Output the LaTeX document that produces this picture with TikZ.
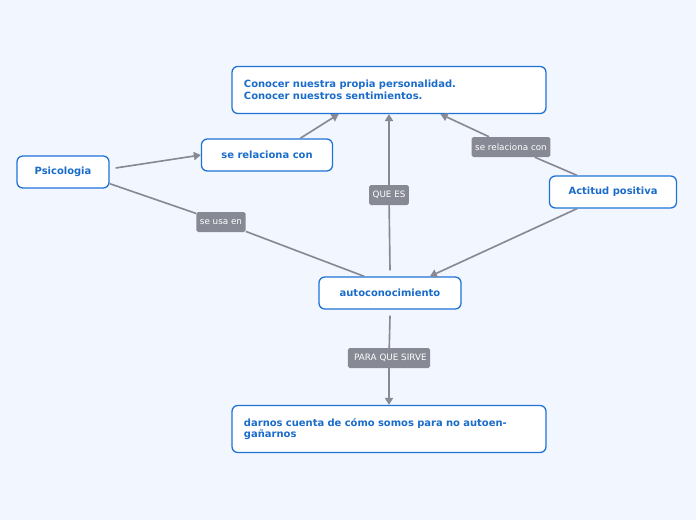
\documentclass[tikz,border=0pt]{standalone}
\usepackage{fontspec}
\setmainfont{DejaVu Sans}
\usetikzlibrary{arrows.meta,positioning}
\definecolor{mapblue}{HTML}{1F73D8}
\definecolor{maptext}{HTML}{1A6CCB}
\definecolor{mapgray}{HTML}{878A94}
\definecolor{mapbg}{HTML}{F2F6FE}
\begin{document}
\begin{tikzpicture}[x=0.03cm, y=-0.03cm,
    topic/.style={rectangle, draw=mapblue, line width=1.1pt, rounded corners=5pt, fill=white, font=\fontsize{8.5}{10}\selectfont\bfseries, text=maptext, inner xsep=10pt, minimum height=0.96cm},
    wide/.style={topic, minimum width=9.42cm, minimum height=1.41cm, align=left, text width=8.7cm},
    rel/.style={rectangle, fill=mapgray, rounded corners=1.5pt, text=white, font=\fontsize{7.5}{9}\selectfont, inner sep=3pt, minimum height=0.6cm},
    arrow/.style={-{Triangle[length=6pt,width=7pt]}, line width=1.4pt, mapgray},
    link/.style={line width=1.4pt, mapgray}
]
\fill[mapbg] (0,0) rectangle (696,520);

% Topics
\node[wide] (personal) at (389,90) {Conocer nuestra propia personalidad.\\Conocer nuestros sentimientos.};
\node[topic, minimum width=3.93cm] (relacion) at (267,155) {se relaciona con};
\node[topic, minimum width=2.76cm] (psico) at (63,172) {Psicologia};
\node[topic, minimum width=3.81cm] (actitud) at (613,192) {Actitud positiva};
\node[topic, minimum width=4.26cm] (auto) at (390,293) {autoconocimiento};
\node[wide] (darnos) at (389,429) {darnos cuenta de cómo somos para no autoengañarnos};

% Relationship labels
\node[rel] (usa) at (221,222) {se usa en};
\node[rel] (quees) at (389,195) {QUE ES};
\node[rel] (serel) at (511,147) {se relaciona con};
\node[rel] (sirve) at (389,358) {\ PARA QUE SIRVE};

% Connectors
\draw[arrow] (psico.east) ++(6,-4) coordinate (p1) -- (relacion.west);
\draw[arrow] (relacion.north east) ++(-33,0) -- ([xshift=-43pt]personal.south);
\draw[link] (auto.north) ++(0,-6) -- (quees);
\draw[arrow] (quees) -- (personal.south);
\draw[link] (actitud.north) ++(-36,0) -- (serel);
\draw[arrow] (serel) -- ([xshift=44pt]personal.south);
\draw[arrow] (actitud.south) ++(-36,0) -- ([xshift=34pt]auto.north);
\draw[link] (psico.south east) ++(0,-5) -- (usa);
\draw[link] (usa) -- ([xshift=-22pt]auto.north);
\draw[link] (auto.south) ++(0,6) -- (sirve);
\draw[arrow] (sirve) -- (darnos.north);
\end{tikzpicture}
\end{document}
